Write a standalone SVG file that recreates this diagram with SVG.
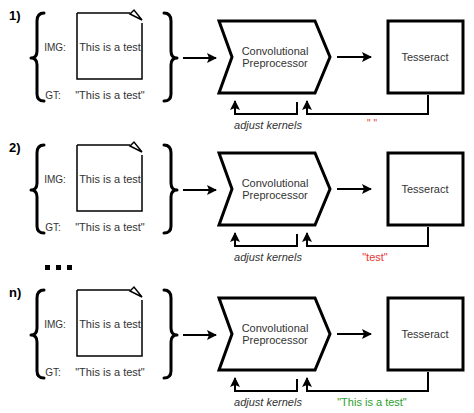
<svg xmlns="http://www.w3.org/2000/svg" width="474" height="413" viewBox="0 0 474 413">
<defs>
<style>
.t{font-family:"Liberation Sans",Arial,sans-serif;fill:#333;text-anchor:middle}
.lbl{font-family:"Liberation Sans",Arial,sans-serif;font-weight:bold;font-size:13px;fill:#000}
.s{font-size:10px}
.m{font-size:11px}
.it{font-size:11px;font-style:italic}
.br{fill:none;stroke:#000;stroke-width:3;stroke-linecap:round;stroke-linejoin:round}
.box{fill:#fff;stroke:#000;stroke-width:3;stroke-linejoin:miter}
.doc{fill:#fff;stroke:#000;stroke-width:1.5}
.ln{fill:none;stroke:#000;stroke-width:2}
.fb{fill:none;stroke:#000;stroke-width:2}
</style>
<marker id="ah" viewBox="0 0 10 10" refX="9" refY="5" markerWidth="10" markerHeight="10" orient="auto" markerUnits="userSpaceOnUse">
<path d="M0,0 L10,5 L0,10 L2,5 Z" fill="#000"/>
</marker>
</defs>
<rect width="474" height="413" fill="#fff"/>

<!-- Row 1 -->
<g transform="translate(0,0)">
<text class="lbl" x="9" y="20">1)</text>
<g id="input1">
<path class="br" d="M44,13 Q37,13 37,21 L37,51 Q37,58 31,58 Q37,58 37,65 L37,94 Q37,101 44,101"/>
<path class="br" d="M164,13 Q171,13 171,21 L171,51 Q171,58 177,58 Q171,58 171,65 L171,94 Q171,101 164,101"/>
<path class="doc" d="M77,13 L130,13 M142,23 L142,79 L77,79 L77,13"/>
<path class="doc" d="M130,14 L134,10 L142,20 Z"/>
<text class="t s" x="55" y="51">IMG:</text>
<text class="t m" x="110" y="51">This is a test</text>
<text class="t s" x="53" y="99">GT:</text>
<text class="t m" x="110" y="99">"This is a test"</text>
</g>
<g id="conv1">
<path class="box" d="M219,21 L315,21 L330,57 L315,93 L219,93 L232,57 Z"/>
<text class="t m" x="275" y="55">Convolutional</text>
<text class="t m" x="275" y="67">Preprocessor</text>
</g>
<g id="tess1">
<rect class="box" x="388" y="21" width="75" height="72"/>
<text class="t m" x="425" y="61">Tesseract</text>
</g>
<g id="edges1">
<line class="ln" x1="183" y1="58" x2="216" y2="58" marker-end="url(#ah)"/>
<line class="ln" x1="337" y1="57" x2="371" y2="57" marker-end="url(#ah)"/>
<path class="fb" d="M428,95 L428,114 L307,114 L307,101" marker-end="url(#ah)"/>
<path class="fb" d="M297,102 L297,114 L235,114 L235,101" marker-end="url(#ah)"/>
<text class="t it" x="268" y="129">adjust kernels</text>
<text class="t s" x="372" y="127" style="fill:#e53935">" "</text>
</g>
</g>

<!-- Row 2 -->
<g transform="translate(0,132)">
<text class="lbl" x="9" y="20">2)</text>
<g id="input2">
<path class="br" d="M44,13 Q37,13 37,21 L37,51 Q37,58 31,58 Q37,58 37,65 L37,94 Q37,101 44,101"/>
<path class="br" d="M164,13 Q171,13 171,21 L171,51 Q171,58 177,58 Q171,58 171,65 L171,94 Q171,101 164,101"/>
<path class="doc" d="M77,13 L130,13 M142,23 L142,79 L77,79 L77,13"/>
<path class="doc" d="M130,14 L134,10 L142,20 Z"/>
<text class="t s" x="55" y="51">IMG:</text>
<text class="t m" x="110" y="51">This is a test</text>
<text class="t s" x="53" y="99">GT:</text>
<text class="t m" x="110" y="99">"This is a test"</text>
</g>
<g id="conv2">
<path class="box" d="M219,21 L315,21 L330,57 L315,93 L219,93 L232,57 Z"/>
<text class="t m" x="275" y="55">Convolutional</text>
<text class="t m" x="275" y="67">Preprocessor</text>
</g>
<g id="tess2">
<rect class="box" x="388" y="21" width="75" height="72"/>
<text class="t m" x="425" y="61">Tesseract</text>
</g>
<g id="edges2">
<line class="ln" x1="183" y1="58" x2="216" y2="58" marker-end="url(#ah)"/>
<line class="ln" x1="337" y1="57" x2="371" y2="57" marker-end="url(#ah)"/>
<path class="fb" d="M428,95 L428,114 L307,114 L307,101" marker-end="url(#ah)"/>
<path class="fb" d="M297,102 L297,114 L235,114 L235,101" marker-end="url(#ah)"/>
<text class="t it" x="268" y="129">adjust kernels</text>
<text class="t m" x="375" y="129" style="fill:#e53935">"test"</text>
</g>
</g>

<!-- dots -->
<g id="ellipsis">
<rect x="45" y="265" width="5" height="5" fill="#000"/>
<rect x="56" y="265" width="5" height="5" fill="#000"/>
<rect x="67" y="265" width="5" height="5" fill="#000"/>
</g>

<!-- Row n -->
<g transform="translate(0,277)">
<text class="lbl" x="9" y="20">n)</text>
<g id="inputn">
<path class="br" d="M44,13 Q37,13 37,21 L37,51 Q37,58 31,58 Q37,58 37,65 L37,94 Q37,101 44,101"/>
<path class="br" d="M164,13 Q171,13 171,21 L171,51 Q171,58 177,58 Q171,58 171,65 L171,94 Q171,101 164,101"/>
<path class="doc" d="M77,13 L130,13 M142,23 L142,79 L77,79 L77,13"/>
<path class="doc" d="M130,14 L134,10 L142,20 Z"/>
<text class="t s" x="55" y="51">IMG:</text>
<text class="t m" x="110" y="51">This is a test</text>
<text class="t s" x="53" y="99">GT:</text>
<text class="t m" x="110" y="99">"This is a test"</text>
</g>
<g id="convn">
<path class="box" d="M219,21 L315,21 L330,57 L315,93 L219,93 L232,57 Z"/>
<text class="t m" x="275" y="55">Convolutional</text>
<text class="t m" x="275" y="67">Preprocessor</text>
</g>
<g id="tessn">
<rect class="box" x="388" y="21" width="75" height="72"/>
<text class="t m" x="425" y="61">Tesseract</text>
</g>
<g id="edgesn">
<line class="ln" x1="183" y1="58" x2="216" y2="58" marker-end="url(#ah)"/>
<line class="ln" x1="337" y1="57" x2="371" y2="57" marker-end="url(#ah)"/>
<path class="fb" d="M428,95 L428,114 L307,114 L307,101" marker-end="url(#ah)"/>
<path class="fb" d="M297,102 L297,114 L235,114 L235,101" marker-end="url(#ah)"/>
<text class="t it" x="268" y="129">adjust kernels</text>
<text class="t m" x="372" y="129" style="fill:#2e9e2e">"This is a test"</text>
</g>
</g>
</svg>
